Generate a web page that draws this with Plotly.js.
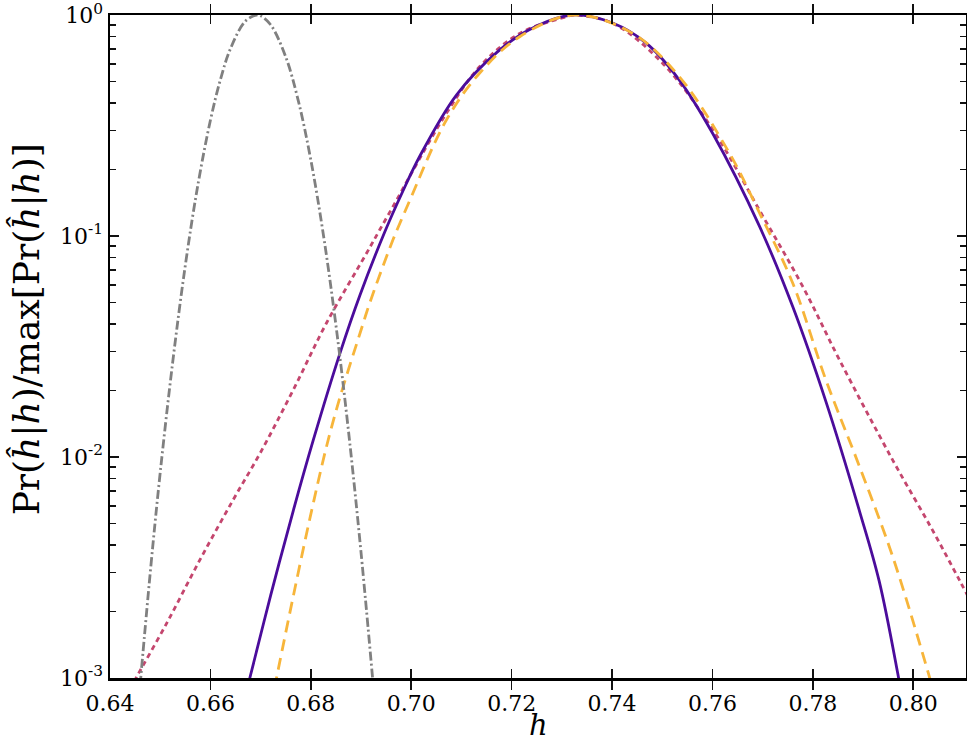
<!DOCTYPE html>
<html>
<head>
<meta charset="utf-8">
<script src="https://cdn.plot.ly/plotly-3.0.1.min.js"></script>
<style>
  body { margin: 0; background: #fff; }
  #chart { width: 967px; height: 744px; }
</style>
</head>
<body>
<div id="chart"></div>
<script>
// values (normalised probability, log y axis)
var grayX = [0.646, 0.648, 0.650, 0.6525, 0.655, 0.6575, 0.660, 0.662, 0.664, 0.667, 0.6692, 0.670, 0.672, 0.675, 0.6775, 0.680, 0.6825, 0.685, 0.6875, 0.690, 0.6925];
var grayY = [9.3e-4, 2.97e-3, 8.5e-3, 0.0270, 0.0736, 0.170, 0.334, 0.511, 0.705, 0.94, 1.0, 0.992, 0.904, 0.647, 0.410, 0.221, 0.1014, 0.0395, 0.0131, 3.7e-3, 8.9e-4];

var purpleX = [0.666, 0.6679, 0.6720, 0.6765, 0.6805, 0.6858, 0.6898, 0.6947, 0.6983, 0.7017, 0.7090, 0.7170, 0.7236, 0.7321, 0.7401, 0.7468, 0.7534, 0.7600, 0.7694, 0.7760, 0.7826, 0.7893, 0.7932, 0.7969, 0.799];
var purpleY = [7.0e-4, 1.01e-3, 2.366e-3, 5.71e-3, 0.01194, 0.02944, 0.0541, 0.104, 0.159, 0.2296, 0.4345, 0.676, 0.861, 1.0, 0.920, 0.746, 0.508, 0.2924, 0.1102, 0.0478, 0.0178, 5.68e-3, 2.75e-3, 1.05e-3, 5.6e-4];

var yellowX = [0.672, 0.6735, 0.6765, 0.6798, 0.6831, 0.6858, 0.6898, 0.6917, 0.6944, 0.6964, 0.6994, 0.7070, 0.7136, 0.7216, 0.7325, 0.7441, 0.7534, 0.7634, 0.7694, 0.7760, 0.7826, 0.7893, 0.7959, 0.8029, 0.8045];
var yellowY = [7.4e-4, 1.09e-3, 2.34e-3, 5.25e-3, 0.01109, 0.01862, 0.0363, 0.0495, 0.0733, 0.0966, 0.1396, 0.335, 0.545, 0.798, 1.0, 0.826, 0.526, 0.2366, 0.1268, 0.0611, 0.02228, 9.04e-3, 3.54e-3, 1.07e-3, 7.9e-4];

var pinkX = [0.644, 0.6453, 0.6513, 0.6579, 0.6645, 0.6699, 0.6765, 0.6831, 0.6911, 0.6937, 0.6971, 0.7004, 0.7070, 0.7136, 0.7216, 0.7309, 0.7325, 0.7402, 0.7501, 0.7601, 0.7697, 0.7780, 0.7853, 0.7959, 0.8038, 0.8092, 0.8125];
var pinkY = [8.9e-4, 1.01e-3, 1.77e-3, 3.42e-3, 6.38e-3, 0.0104, 0.0201, 0.0403, 0.0836, 0.1064, 0.1455, 0.199, 0.359, 0.583, 0.826, 0.982, 1.0, 0.916, 0.604, 0.302, 0.1268, 0.0590, 0.0275, 9.68e-3, 4.68e-3, 2.77e-3, 2.0e-3];

var xTicks = [0.64, 0.66, 0.68, 0.70, 0.72, 0.74, 0.76, 0.78, 0.80];
var yTicks = [0.001, 0.01, 0.1, 1];
var yTickText = ['10<sup>-3</sup>', '10<sup>-2</sup>', '10<sup>-1</sup>', '10<sup>0</sup>'];
var yMinor = [0.002, 0.003, 0.004, 0.005, 0.006, 0.007, 0.008, 0.009,
              0.02, 0.03, 0.04, 0.05, 0.06, 0.07, 0.08, 0.09,
              0.2, 0.3, 0.4, 0.5, 0.6, 0.7, 0.8, 0.9];

var serif = 'DejaVu Serif, Liberation Serif, serif';
var yRange = [-3.0002, 0.0002];

// all decade + minor positions on the main axis (short ticks, labels only at decades)
var yAllTicks = yTicks.concat(yMinor);
var yAllText = yTickText.concat(yMinor.map(function () { return ''; }));

function line(x, y, color, dash, yaxis) {
    return {
        x: x, y: y,
        yaxis: yaxis || 'y',
        type: 'scatter', mode: 'lines',
        line: { color: color, width: 2.8, dash: dash, shape: 'spline', smoothing: 1 },
        hoverinfo: 'skip'
    };
}

var traces = [
    line(grayX, grayY, '#808080', '9px,3px,2px,3px', 'y2'),
    line(pinkX, pinkY, '#c4466e', '5px,4px'),
    line(purpleX, purpleY, '#4b0c9b', 'solid'),
    line(yellowX, yellowY, '#f7b53a', '12px,7px')
];

var layout = {
    width: 967,
    height: 744,
    margin: { l: 110, r: 1, t: 15, b: 66 },
    paper_bgcolor: '#ffffff',
    plot_bgcolor: '#ffffff',
    showlegend: false,
    font: { family: serif, color: '#000', size: 22 },
    xaxis: {
        range: [0.64, 0.8105],
        tickmode: 'array',
        tickvals: xTicks,
        ticktext: xTicks.map(function (v) { return v.toFixed(2); }),
        ticks: 'inside',
        ticklen: 9,
        tickwidth: 1.6,
        tickcolor: '#111111',
        ticklabelstandoff: 4,
        mirror: 'allticks',
        showline: true,
        linecolor: '#000',
        linewidth: 2.5,
        showgrid: false,
        zeroline: false,
        layer: 'above traces',
        tickfont: { family: serif, size: 22 }
    },
    yaxis: {
        type: 'log',
        range: yRange,
        tickmode: 'array',
        tickvals: yAllTicks,
        ticktext: yAllText,
        ticks: 'inside',
        ticklen: 6,
        tickwidth: 1.6,
        tickcolor: '#111111',
        ticklabeloverflow: 'allow',
        mirror: 'allticks',
        showline: true,
        linecolor: '#000',
        linewidth: 2.5,
        showgrid: false,
        zeroline: false,
        layer: 'above traces',
        tickfont: { family: serif, size: 22 }
    },
    // second log axis over the first, for the longer decade ticks
    yaxis2: {
        type: 'log',
        range: yRange,
        overlaying: 'y',
        side: 'left',
        anchor: 'x',
        tickmode: 'array',
        tickvals: yTicks,
        ticks: 'inside',
        ticklen: 9,
        tickwidth: 1.6,
        tickcolor: '#111111',
        mirror: 'allticks',
        showticklabels: false,
        showline: false,
        showgrid: false,
        zeroline: false,
        layer: 'above traces'
    },
    annotations: [{
        text: 'Pr(<i>ĥ</i>|<i>h</i>)/max[Pr(<i>ĥ</i>|<i>h</i>)]',
        xref: 'paper', yref: 'paper',
        x: -0.098, y: 0.526,
        xanchor: 'center', yanchor: 'middle',
        textangle: -90,
        showarrow: false,
        font: { family: serif, size: 36, color: '#000' }
    }, {
        text: '<i>h</i>',
        xref: 'paper', yref: 'paper',
        x: 0.5, y: -0.0995,
        xanchor: 'center', yanchor: 'bottom',
        showarrow: false,
        font: { family: serif, size: 29, color: '#000' }
    }]
};

Plotly.newPlot('chart', traces, layout, { staticPlot: true });
</script>
</body>
</html>
